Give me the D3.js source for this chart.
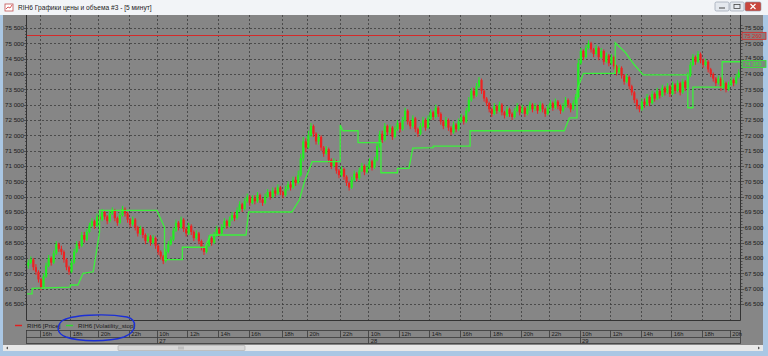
<!DOCTYPE html>
<html lang="ru">
<head>
<meta charset="UTF-8">
<title>RIH6 Графики цены и объема #3</title>
<script src="https://d3js.org/d3.v7.min.js"></script>
<style>
  html, body { margin: 0; padding: 0; background: #fff; }
  svg { display: block; font-family: "Liberation Sans", Arial, sans-serif; }
</style>
</head>
<body>
<script>
// bars (compressed 5-minute series), prices in thousands; open = previous close
const firstOpen = 67.75;
const closes = [
  67.85, 67.95, 67.70, 67.55, 67.30, 67.05, 67.40, 67.75, 68.00, 67.85,
  68.15, 68.45, 68.30, 68.20, 67.95, 67.70, 67.55, 67.85, 68.20, 68.45,
  68.40, 68.75, 68.60, 68.85, 69.05, 69.20, 69.05, 69.35, 69.25, 69.50,
  69.35, 69.20, 69.45, 69.55, 69.30, 69.15, 69.40, 69.60, 69.45, 69.25,
  69.10, 69.25, 69.00, 68.80, 68.95, 68.75, 68.55, 68.70, 68.50, 68.65,
  68.40, 68.20, 68.05, 67.90, 68.20, 68.45, 68.60, 68.90, 69.15, 69.00,
  69.25, 68.95, 68.80, 69.05, 68.85, 68.65, 68.80, 68.55, 68.35, 68.20,
  68.40, 68.65, 68.50, 68.75, 68.95, 68.80, 69.00, 69.20, 69.05, 69.25,
  69.40, 69.30, 69.55, 69.75, 69.60, 69.85, 70.00, 69.80, 69.95, 69.85,
  70.05, 69.90, 69.80, 70.00, 70.15, 70.00, 70.20, 70.10, 70.30, 70.15,
  70.05, 70.25, 70.40, 70.30, 70.55, 70.45, 70.70, 71.25, 71.80, 71.60,
  72.00, 72.30, 72.05, 71.80, 71.95, 71.60, 71.40, 71.55, 71.20, 71.00,
  71.15, 70.85, 70.70, 70.90, 70.65, 70.45, 70.30, 70.55, 70.75, 70.60,
  70.85, 71.00, 70.80, 70.95, 71.15, 70.95, 71.20, 71.65, 72.05, 71.85,
  72.30, 72.10, 72.25, 71.95, 72.20, 72.40, 72.20, 72.50, 72.80, 72.45,
  72.30, 72.55, 72.20, 72.05, 72.30, 72.50, 72.25, 72.55, 72.75, 72.60,
  72.90, 72.70, 72.45, 72.30, 72.50, 72.25, 72.10, 72.35, 72.20, 72.45,
  72.60, 72.45, 72.80, 73.15, 73.45, 73.30, 73.60, 73.80, 73.45, 73.20,
  73.05, 72.85, 72.70, 72.95, 72.80, 73.00, 72.75, 72.65, 72.85, 72.70,
  72.60, 72.80, 72.95, 72.75, 72.90, 72.70, 72.85, 73.00, 72.85, 72.95,
  72.80, 73.00, 72.85, 72.70, 72.90, 73.05, 72.90, 73.10, 72.95, 72.80,
  72.95, 73.15, 73.00, 72.85, 73.05, 73.25, 74.35, 74.75, 74.55, 74.85,
  75.00, 74.80, 74.65, 74.85, 74.55, 74.75, 74.40, 74.60, 74.35, 74.55,
  74.25, 74.05, 74.20, 73.95, 73.75, 73.90, 73.60, 73.40, 73.15, 72.95,
  72.85, 73.10, 73.00, 73.25, 73.05, 73.35, 73.20, 73.45, 73.30, 73.55,
  73.40, 73.60, 73.35, 73.65, 73.45, 73.70, 73.40, 73.75, 73.55, 73.95,
  74.30, 74.55, 74.40, 74.65, 74.45, 74.30, 74.40, 74.15, 74.00, 73.85,
  73.70, 73.85, 73.55, 73.70, 73.50, 73.65, 73.80, 73.70, 73.90, 74.05
];
const highs = [
  67.95, 68.05, 68.00, 67.80, 67.60, 67.35, 67.50, 67.85, 68.10, 68.05,
  68.25, 68.55, 68.50, 68.40, 68.25, 68.00, 67.75, 67.95, 68.30, 68.55,
  68.55, 68.85, 68.85, 68.95, 69.15, 69.30, 69.25, 69.45, 69.45, 69.60,
  69.55, 69.40, 69.55, 69.65, 69.60, 69.35, 69.50, 69.70, 69.65, 69.50,
  69.30, 69.35, 69.30, 69.05, 69.05, 69.00, 68.80, 68.80, 68.75, 68.75,
  68.70, 68.45, 68.25, 68.10, 68.30, 68.55, 68.70, 69.00, 69.25, 69.20,
  69.35, 69.30, 69.00, 69.15, 69.10, 68.90, 68.90, 68.85, 68.60, 68.40,
  68.50, 68.75, 68.70, 68.85, 69.05, 69.00, 69.10, 69.30, 69.25, 69.35,
  69.50, 69.50, 69.65, 69.85, 69.80, 69.95, 70.10, 70.05, 70.05, 70.05,
  70.15, 70.10, 69.95, 70.10, 70.25, 70.20, 70.30, 70.30, 70.40, 70.35,
  70.20, 70.35, 70.50, 70.50, 70.65, 70.65, 70.85, 71.40, 71.95, 71.90,
  72.15, 72.40, 72.35, 72.10, 72.05, 72.00, 71.65, 71.65, 71.60, 71.25,
  71.25, 71.20, 70.90, 71.00, 70.95, 70.70, 70.50, 70.65, 70.85, 70.80,
  70.95, 71.10, 71.05, 71.05, 71.25, 71.20, 71.30, 71.75, 72.15, 72.15,
  72.40, 72.35, 72.35, 72.30, 72.30, 72.50, 72.45, 72.60, 72.90, 72.85,
  72.50, 72.65, 72.60, 72.25, 72.40, 72.60, 72.55, 72.65, 72.85, 72.80,
  73.00, 72.95, 72.75, 72.50, 72.60, 72.55, 72.30, 72.45, 72.40, 72.55,
  72.70, 72.65, 72.90, 73.25, 73.55, 73.55, 73.70, 73.90, 73.85, 73.50,
  73.25, 73.10, 72.90, 73.05, 73.00, 73.10, 73.05, 72.80, 72.95, 72.90,
  72.75, 72.90, 73.05, 73.00, 73.00, 72.95, 72.95, 73.10, 73.05, 73.05,
  73.00, 73.10, 73.05, 72.90, 73.00, 73.15, 73.10, 73.20, 73.15, 73.00,
  73.05, 73.25, 73.20, 73.05, 73.15, 73.35, 74.50, 74.85, 74.80, 74.95,
  75.10, 75.05, 74.85, 74.95, 74.90, 74.85, 74.80, 74.70, 74.65, 74.65,
  74.60, 74.30, 74.30, 74.25, 74.00, 74.00, 73.95, 73.65, 73.45, 73.20,
  73.00, 73.20, 73.20, 73.35, 73.30, 73.45, 73.40, 73.55, 73.50, 73.65,
  73.60, 73.70, 73.65, 73.75, 73.70, 73.80, 73.75, 73.85, 73.80, 74.05,
  74.40, 74.65, 74.60, 74.75, 74.70, 74.50, 74.50, 74.45, 74.20, 74.05,
  73.90, 73.95, 73.90, 73.80, 73.75, 73.75, 73.90, 73.85, 74.00, 74.15
];
const lows = [
  67.65, 67.80, 67.60, 67.45, 67.20, 66.95, 67.00, 67.35, 67.70, 67.75,
  67.80, 68.10, 68.20, 68.10, 67.85, 67.60, 67.45, 67.50, 67.80, 68.15,
  68.30, 68.35, 68.50, 68.55, 68.80, 69.00, 68.95, 69.00, 69.15, 69.20,
  69.25, 69.10, 69.15, 69.40, 69.20, 69.05, 69.10, 69.35, 69.35, 69.15,
  69.00, 69.05, 68.90, 68.70, 68.75, 68.65, 68.45, 68.50, 68.40, 68.45,
  68.30, 68.10, 67.95, 67.80, 67.85, 68.15, 68.40, 68.55, 68.85, 68.90,
  68.95, 68.85, 68.70, 68.75, 68.75, 68.55, 68.60, 68.45, 68.25, 68.10,
  68.15, 68.35, 68.40, 68.45, 68.70, 68.70, 68.75, 68.95, 68.95, 69.00,
  69.20, 69.20, 69.25, 69.50, 69.50, 69.55, 69.80, 69.70, 69.75, 69.75,
  69.80, 69.80, 69.70, 69.75, 69.95, 69.90, 69.95, 70.00, 70.05, 70.05,
  69.95, 70.00, 70.20, 70.20, 70.25, 70.35, 70.40, 70.65, 71.15, 71.45,
  71.55, 71.95, 71.95, 71.70, 71.70, 71.50, 71.30, 71.35, 71.10, 70.90,
  70.95, 70.75, 70.60, 70.65, 70.55, 70.35, 70.20, 70.25, 70.50, 70.50,
  70.55, 70.80, 70.70, 70.75, 70.90, 70.85, 70.90, 71.15, 71.60, 71.75,
  71.80, 72.00, 72.05, 71.85, 71.90, 72.15, 72.10, 72.15, 72.45, 72.35,
  72.20, 72.25, 72.10, 71.95, 72.00, 72.25, 72.15, 72.20, 72.50, 72.50,
  72.55, 72.60, 72.35, 72.20, 72.25, 72.15, 72.00, 72.05, 72.10, 72.15,
  72.40, 72.35, 72.40, 72.75, 73.10, 73.20, 73.25, 73.55, 73.35, 73.10,
  72.95, 72.75, 72.60, 72.65, 72.70, 72.75, 72.65, 72.55, 72.60, 72.60,
  72.50, 72.55, 72.75, 72.65, 72.70, 72.60, 72.65, 72.80, 72.75, 72.80,
  72.70, 72.75, 72.75, 72.60, 72.65, 72.85, 72.80, 72.85, 72.85, 72.70,
  72.75, 72.90, 72.90, 72.75, 72.80, 73.00, 73.20, 74.30, 74.45, 74.50,
  74.80, 74.70, 74.55, 74.60, 74.45, 74.50, 74.30, 74.35, 74.25, 74.30,
  74.15, 73.95, 74.00, 73.85, 73.65, 73.70, 73.50, 73.30, 73.05, 72.85,
  72.75, 72.80, 72.90, 72.95, 72.95, 73.00, 73.10, 73.15, 73.20, 73.25,
  73.30, 73.35, 73.25, 73.30, 73.35, 73.40, 73.30, 73.35, 73.45, 73.50,
  73.90, 74.25, 74.30, 74.35, 74.35, 74.20, 74.25, 74.05, 73.90, 73.75,
  73.60, 73.65, 73.45, 73.50, 73.40, 73.45, 73.60, 73.60, 73.65, 73.85
];

// Volatility_stop line: bar index -> value
const stopIdx = [0, 2, 2, 17, 17, 20, 22, 26, 28.5, 28.5, 51, 54, 54, 61, 61, 70, 72, 86, 87, 104, 107, 109, 112, 123, 123, 124, 130, 130, 139, 139, 145.5, 145.5, 150, 151.5, 159.5, 159.5, 174, 174, 211, 213, 216, 216, 218.5, 231, 231, 235, 238.5, 242, 259.5, 259.5, 261.5, 261.5, 273, 273, 280];
const stopVal = [66.83, 66.83, 67.01, 67.05, 67.12, 67.12, 67.50, 67.55, 68.85, 69.55, 69.55, 69.00, 67.95, 67.95, 68.35, 68.35, 68.75, 68.75, 69.50, 69.50, 69.90, 70.50, 71.14, 71.14, 72.34, 72.15, 72.15, 71.76, 71.76, 70.78, 70.78, 70.92, 70.92, 71.58, 71.60, 71.65, 71.65, 72.15, 72.15, 72.57, 72.57, 73.48, 74.02, 74.02, 75.02, 74.70, 74.30, 73.97, 73.97, 72.90, 72.90, 73.57, 73.57, 74.40, 74.40];

// time axis
const tickIdx = [5, 17, 28, 40, 51, 63, 75, 87, 100, 110, 123, 134, 146, 158, 170, 182, 194, 205, 217, 229, 241, 253, 265, 276];
const tickLabels = ["16h", "18h", "20h", "22h", "10h", "12h", "14h", "16h", "18h", "20h", "22h", "10h", "12h", "14h", "16h", "18h", "20h", "22h", "10h", "12h", "14h", "16h", "18h", "20h"];
const dayIdx = [51, 134, 217];
const dayLabels = ["27", "28", "29"];

// price axis
const priceTicks = [66.5, 67, 67.5, 68, 68.5, 69, 69.5, 70, 70.5, 71, 71.5, 72, 72.5, 73, 73.5, 74, 74.5, 75, 75.5];
const lastPrice = 75.26;
const lastStop = 74.383;

const W = 768, H = 356;
const plot = { left: 26, right: 740, top: 15, bottom: 320 };
const N = closes.length;

const x = d3.scaleLinear().domain([0, N]).range([plot.left + 1, plot.right]);
const y = d3.scaleLinear().domain([66.5, 75.5]).range([304, 28]);

const loc = d3.formatLocale({ decimal: ".", thousands: " ", grouping: [3], currency: ["", ""] });
const fmt = v => loc.format(",d")(Math.round(v * 1000));

const svg = d3.select("body").append("svg").attr("width", W).attr("height", H);

// window frame
svg.append("rect").attr("width", W).attr("height", H).attr("fill", "#aac7e4");
svg.append("rect").attr("x", 0).attr("y", 0).attr("width", W).attr("height", 15).attr("fill", "#f2f4f7");
svg.append("rect").attr("x", 3).attr("y", 15).attr("width", 760).attr("height", 336).attr("fill", "#868686");

// title
svg.append("rect").attr("x", 5).attr("y", 4).attr("width", 8).attr("height", 7)
  .attr("fill", "#fff").attr("stroke", "#c05050").attr("stroke-width", 0.8);
svg.append("path").attr("d", "M6,9 L8,7 L10,8 L12,5").attr("fill", "none").attr("stroke", "#d03030").attr("stroke-width", 0.8);
svg.append("text").attr("x", 18).attr("y", 10).attr("font-size", 6.6).attr("fill", "#222")
  .text("RIH6 Графики цены и объема #3 - [5 минут]");

// window buttons
const btns = [{ x: 715, w: 14, fill: "#e4e8ee" }, { x: 730, w: 14, fill: "#e4e8ee" }, { x: 745, w: 16, fill: "#c9463d" }];
svg.selectAll(".btn").data(btns).join("rect").attr("class", "btn")
  .attr("x", d => d.x).attr("y", 2).attr("width", d => d.w).attr("height", 9).attr("rx", 1.5)
  .attr("fill", d => d.fill).attr("stroke", "#8a96a6").attr("stroke-width", 0.6);
svg.append("line").attr("x1", 719).attr("x2", 725).attr("y1", 8).attr("y2", 8).attr("stroke", "#444");
svg.append("rect").attr("x", 734).attr("y", 4.5).attr("width", 6).attr("height", 4).attr("fill", "none").attr("stroke", "#444").attr("stroke-width", 0.8);
svg.append("path").attr("d", "M750.5,4 L755.5,9 M755.5,4 L750.5,9").attr("stroke", "#fff").attr("stroke-width", 1.2);

// grid
const grid = svg.append("g").attr("stroke", "#3c3c3c").attr("stroke-width", 0.8).attr("stroke-dasharray", "2,2");
grid.selectAll(".hg").data(priceTicks).join("line")
  .attr("x1", plot.left).attr("x2", plot.right).attr("y1", d => Math.round(y(d)) + 0.5).attr("y2", d => Math.round(y(d)) + 0.5);
grid.selectAll(".vg").data(tickIdx).join("line")
  .attr("x1", d => Math.round(x(d)) + 0.5).attr("x2", d => Math.round(x(d)) + 0.5).attr("y1", plot.top).attr("y2", plot.bottom);

// axes frame
svg.append("path")
  .attr("d", `M${plot.left + 0.5},${plot.top} V${plot.bottom + 0.5} H${plot.right + 0.5} V${plot.top}`)
  .attr("fill", "none").attr("stroke", "#333").attr("stroke-width", 1);

// minor ticks
const minor = d3.range(66.5, 75.61, 0.1);
svg.append("g").selectAll("line").data(minor).join("line")
  .attr("x1", plot.right + 0.5).attr("x2", (d, i) => plot.right + (i % 5 === 0 ? 4 : 2.5))
  .attr("y1", d => Math.round(y(d)) + 0.5).attr("y2", d => Math.round(y(d)) + 0.5)
  .attr("stroke", "#333").attr("stroke-width", 0.7);
svg.append("g").selectAll("line").data(minor).join("line")
  .attr("x1", plot.left + 0.5).attr("x2", (d, i) => plot.left - (i % 5 === 0 ? 2 : 1))
  .attr("y1", d => Math.round(y(d)) + 0.5).attr("y2", d => Math.round(y(d)) + 0.5)
  .attr("stroke", "#333").attr("stroke-width", 0.7);

// price labels
svg.append("g").selectAll("text").data(priceTicks).join("text")
  .attr("x", plot.left - 2).attr("y", d => y(d) + 2.2).attr("text-anchor", "end")
  .attr("font-size", 6.2).attr("fill", "#1a1a1a").text(fmt);
svg.append("g").selectAll("text").data(priceTicks).join("text")
  .attr("x", plot.right + 4.5).attr("y", d => y(d) + (d === 74.5 ? 1.2 : 2.2))
  .attr("font-size", 6.2).attr("fill", "#1a1a1a").text(fmt);

// last price line
svg.append("line").attr("x1", plot.left + 1).attr("x2", plot.right)
  .attr("y1", Math.round(y(lastPrice)) + 0.5).attr("y2", Math.round(y(lastPrice)) + 0.5)
  .attr("stroke", "#d42a2a").attr("stroke-width", 1);

// bars
const bars = closes.map((c, i) => ({ i, o: i === 0 ? firstOpen : closes[i - 1], c, h: highs[i], l: lows[i] }));
const barColor = d => d.c >= d.o ? "#22ee22" : "#ee2222";
const bg = svg.append("g");
bg.selectAll("line").data(bars).join("line")
  .attr("x1", d => x(d.i + 0.5)).attr("x2", d => x(d.i + 0.5))
  .attr("y1", d => y(d.h)).attr("y2", d => y(d.l))
  .attr("stroke", barColor).attr("stroke-width", 1);
bg.selectAll("rect").data(bars).join("rect")
  .attr("x", d => x(d.i + 0.5) - 1.1)
  .attr("width", 2.2)
  .attr("y", d => y(Math.max(d.o, d.c)))
  .attr("height", d => Math.max(1, Math.abs(y(d.o) - y(d.c))))
  .attr("fill", barColor);

// volatility stop
const stopPts = stopIdx.map((d, i) => [d, stopVal[i]]);
svg.append("path").datum(stopPts)
  .attr("d", d3.line().x(d => x(d[0])).y(d => y(d[1])))
  .attr("fill", "none").attr("stroke", "#3cf03c").attr("stroke-width", 1.3);

// value tags on right axis
const tags = [{ v: lastPrice, c: "#d42a2a", bg: "#8a7c7c", dy: 0 }, { v: lastStop, c: "#2ee82e", bg: "#7c8a7c", dy: 1.2 }];
const tg = svg.append("g").selectAll("g").data(tags).join("g");
tg.append("rect").attr("x", plot.right + 2).attr("y", d => y(d.v) - 3 + d.dy).attr("width", 24).attr("height", 7)
  .attr("fill", d => d.bg).attr("stroke", d => d.c).attr("stroke-width", 0.8);
tg.append("text").attr("x", plot.right + 4.5).attr("y", d => y(d.v) + 3 + d.dy)
  .attr("font-size", 5.6).attr("fill", d => d.c).text(d => fmt(d.v));

// legend
const legend = [{ x: 15, c: "#e02020", t: "RIH6 [Price]" }, { x: 66, c: "#30d830", t: "RIH6 [Volatility_stop]" }];
const lg = svg.append("g").selectAll("g").data(legend).join("g");
lg.append("line").attr("x1", d => d.x).attr("x2", d => d.x + 7).attr("y1", 325.5).attr("y2", 325.5)
  .attr("stroke", d => d.c).attr("stroke-width", 1.5);
lg.append("text").attr("x", d => d.x + 12).attr("y", 328).attr("font-size", 6.2).attr("fill", "#1a1a1a").text(d => d.t);

// time axis
const ta = svg.append("g");
ta.append("rect").attr("x", plot.left + 0.5).attr("y", 330.5).attr("width", plot.right - plot.left).attr("height", 13)
  .attr("fill", "#868686").attr("stroke", "#3a3a3a").attr("stroke-width", 0.8);
ta.append("line").attr("x1", plot.left).attr("x2", plot.right).attr("y1", 337.5).attr("y2", 337.5)
  .attr("stroke", "#3a3a3a").attr("stroke-width", 0.8);
ta.selectAll(".tl").data(tickIdx).join("line")
  .attr("x1", d => Math.round(x(d)) + 0.5).attr("x2", d => Math.round(x(d)) + 0.5)
  .attr("y1", 330.5).attr("y2", 337.5).attr("stroke", "#3a3a3a").attr("stroke-width", 0.8);
ta.selectAll(".tt").data(tickIdx).join("text")
  .attr("x", d => x(d) + 2.5).attr("y", 336).attr("font-size", 5.8).attr("fill", "#1a1a1a")
  .text((d, i) => tickLabels[i]);
ta.selectAll(".dl").data(dayIdx).join("line")
  .attr("x1", d => Math.round(x(d)) + 0.5).attr("x2", d => Math.round(x(d)) + 0.5)
  .attr("y1", 337.5).attr("y2", 343.5).attr("stroke", "#3a3a3a").attr("stroke-width", 0.8);
ta.selectAll(".dt").data(dayIdx).join("text")
  .attr("x", d => x(d) + 2.5).attr("y", 342.8).attr("font-size", 5.8).attr("fill", "#1a1a1a")
  .text((d, i) => dayLabels[i]);

// scrollbar
svg.append("rect").attr("x", 3).attr("y", 345).attr("width", 760).attr("height", 6).attr("fill", "#e8e8e8");
svg.append("rect").attr("x", 118).attr("y", 345.5).attr("width", 127).attr("height", 5).attr("rx", 1)
  .attr("fill", "#d8d8d8").attr("stroke", "#a8a8a8").attr("stroke-width", 0.6);
svg.append("path").attr("d", "M179,346.5 V349.5 M181,346.5 V349.5 M183,346.5 V349.5").attr("stroke", "#888").attr("stroke-width", 0.6);
svg.append("path").attr("d", "M6,348 L8,346.5 L8,349.5 Z M760,348 L758,346.5 L758,349.5 Z").attr("fill", "#555");

// hand-drawn marker
svg.append("path")
  .attr("d", "M62,321 C70,315 105,313 127,317 C138,320 137,332 124,337 C108,342 80,342 66,337 C56,333 56,326 63,320")
  .attr("fill", "none").attr("stroke", "#1b2fd6").attr("stroke-width", 1.4);
</script>
</body>
</html>
